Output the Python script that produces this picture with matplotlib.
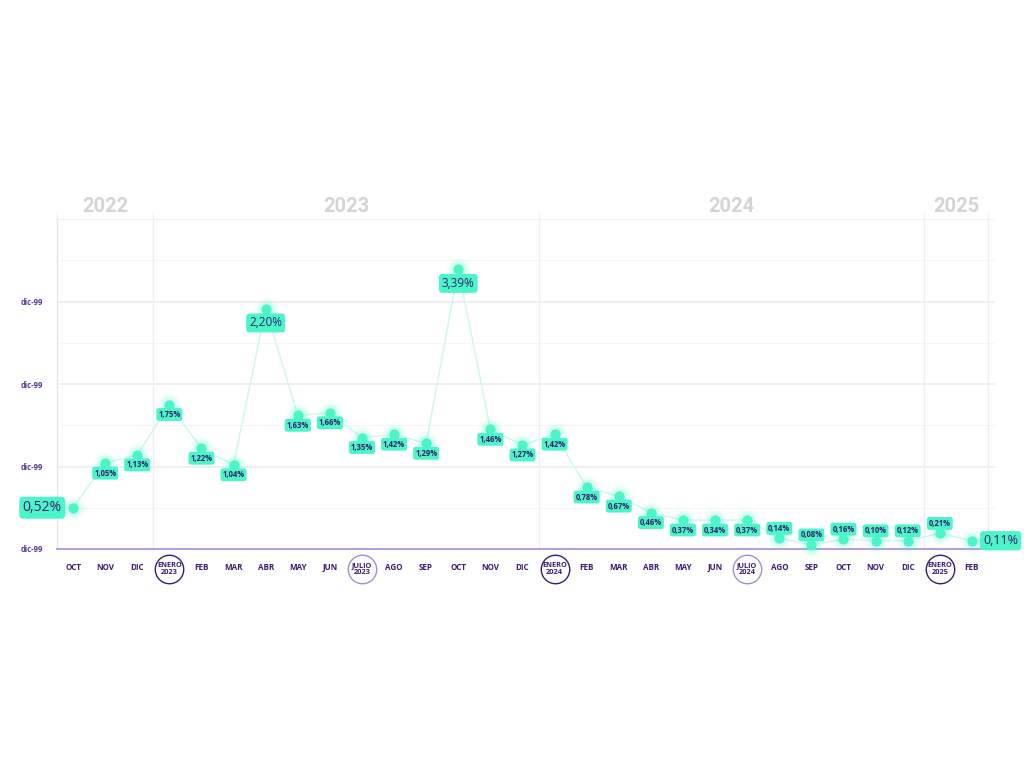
import numpy as np
import matplotlib
matplotlib.use("Agg")
import matplotlib.pyplot as plt

plt.rcParams['font.family'] = ['Open Sans', 'DejaVu Sans']

# Meses del eje x
meses = ['OCT', 'NOV', 'DIC', 'ENERO\n2023', 'FEB', 'MAR', 'ABR', 'MAY', 'JUN',
         'JULIO\n2023', 'AGO', 'SEP', 'OCT', 'NOV', 'DIC', 'ENERO\n2024', 'FEB',
         'MAR', 'ABR', 'MAY', 'JUN', 'JULIO\n2024', 'AGO', 'SEP', 'OCT', 'NOV',
         'DIC', 'ENERO\n2025', 'FEB']

# Altura de cada punto en el grafico
nivel = [0.50, 1.04, 1.14, 1.75, 1.22, 1.02, 2.91, 1.62, 1.65, 1.35, 1.39, 1.28,
         3.39, 1.45, 1.26, 1.39, 0.75, 0.64, 0.44, 0.35, 0.35, 0.35, 0.13, 0.05,
         0.12, 0.10, 0.10, 0.19, 0.10]

# Etiquetas de valor
etiquetas = ['0,52%', '1,05%', '1,13%', '1,75%', '1,22%', '1,04%', '2,20%', '1,63%',
             '1,66%', '1,35%', '1,42%', '1,29%', '3,39%', '1,46%', '1,27%', '1,42%',
             '0,78%', '0,67%', '0,46%', '0,37%', '0,34%', '0,37%', '0,14%', '0,08%',
             '0,16%', '0,10%', '0,12%', '0,21%', '0,11%']

# Etiquetas por encima del punto (resto por debajo)
arriba = [22, 23, 24, 25, 26, 27]

anios = ['2022', '2023', '2024', '2025']
limites_anio = [-0.5, 2.5, 14.5, 26.5, 28.5]

TEAL = '#4af5c8'
MORADO = '#3a1d6e'
LILA = '#b89be0'

x = np.arange(len(nivel))

fig = plt.figure(figsize=(10.24, 7.68), dpi=100)
ax = fig.add_axes([57/1024, 1-549/768, (995-57)/1024, (549-219)/768])

ax.set_xlim(-0.5, 28.72)
ax.set_ylim(0, 4)

# Rejilla
for g in [1, 2, 3, 4]:
    ax.axhline(g, color='#ececec', lw=1.2, zorder=0)
for g in [0.5, 1.5, 2.5, 3.5]:
    ax.axhline(g, color='#f6f6f6', lw=0.8, zorder=0)
for lx in limites_anio:
    ax.plot([lx, lx], [0, 4.07], color='#efefef', lw=1, clip_on=False, zorder=0)
ax.plot([-0.5, -0.5], [0, 4], color='#e6e6e6', lw=1.6, zorder=0)

for s in ax.spines.values():
    s.set_visible(False)
ax.spines['bottom'].set_visible(True)
ax.spines['bottom'].set_color(LILA)
ax.spines['bottom'].set_linewidth(1.4)

ax.set_yticks([0, 1, 2, 3])
ax.set_yticklabels(['dic-99'] * 4, fontsize=5.5, color='#5b3a94', fontweight='bold')
ax.tick_params(axis='y', length=0, pad=10)
ax.set_xticks([])

# Anios
for i, a in enumerate(anios):
    cx = (limites_anio[i] + limites_anio[i + 1]) / 2
    ax.text(cx, 4.035, a, ha='center', va='bottom', fontsize=14.5, fontweight='bold',
            color='#d4d4d4', family=['Roboto', 'DejaVu Sans'])

# Meses
for i, m in enumerate(meses):
    if '\n' in m:
        borde = MORADO if m.startswith('ENERO') else '#a68dd0'
        ax.scatter(i, -0.24, s=420, facecolor='white', edgecolor=borde, lw=1.0,
                   clip_on=False, zorder=3)
        ax.text(i, -0.245, m, ha='center', va='center', fontsize=5.3, fontweight='bold',
                color=MORADO, linespacing=0.95, clip_on=False, zorder=4)
    else:
        ax.text(i, -0.23, m, ha='center', va='center', fontsize=5.8, fontweight='bold',
                color=MORADO, clip_on=False)

# Linea y puntos con brillo
ax.plot(x, nivel, color='#c9f9ea', lw=1.0, zorder=2)
for s, a in [(300, 0.05), (200, 0.08), (130, 0.12)]:
    ax.scatter(x, nivel, s=s, color=TEAL, alpha=a, lw=0, zorder=3, clip_on=False)
ax.scatter(x, nivel, s=55, color=TEAL, lw=0, zorder=4, clip_on=False)

# Etiquetas de valor
caja = dict(boxstyle='round,pad=0.25,rounding_size=0.3', fc=TEAL, ec='none')
for i, (v, t) in enumerate(zip(nivel, etiquetas)):
    if i == 0:
        ax.text(i - 0.35, v, t, ha='right', va='center', fontsize=10, color=MORADO,
                bbox=caja, zorder=5, clip_on=False)
    elif i == len(nivel) - 1:
        ax.text(i + 0.35, v, t, ha='left', va='center', fontsize=9, color=MORADO,
                bbox=caja, zorder=5, clip_on=False)
    elif i in (6, 12):
        ax.text(i, v - 0.17, t, ha='center', va='center', fontsize=8.5, color=MORADO,
                bbox=caja, zorder=5)
    elif i in arriba:
        ax.text(i, v + 0.12, t, ha='center', va='center', fontsize=5.5, color=MORADO,
                fontweight='bold', bbox=caja, zorder=5, clip_on=False)
    else:
        ax.text(i, v - 0.12, t, ha='center', va='center', fontsize=5.5, color=MORADO,
                fontweight='bold', bbox=caja, zorder=5, clip_on=False)

fig.savefig('out.png', dpi=100, facecolor='white')
